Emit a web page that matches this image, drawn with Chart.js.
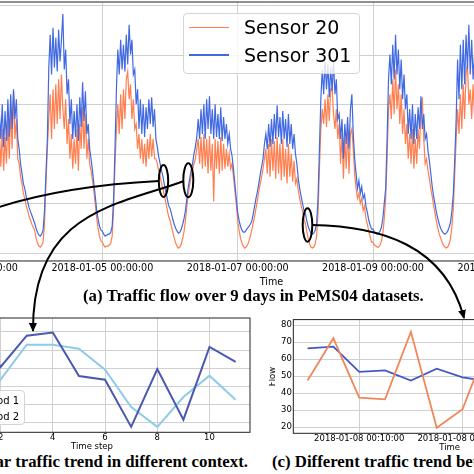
<!DOCTYPE html>
<html>
<head>
<meta charset="utf-8">
<script src="https://cdn.jsdelivr.net/npm/chart.js@4.4.0/dist/chart.umd.min.js"></script>
<style>
  html, body { margin: 0; padding: 0; }
  body { width: 474px; height: 474px; overflow: hidden; background: #fff; position: relative; font-family: 'DejaVu Sans'; }
  .box { position: absolute; }
  .legend { position: absolute; background: rgba(255,255,255,0.8); border: 1px solid #d4d4d4; border-radius: 4px; box-sizing: border-box; }
  .legend span { position: absolute; white-space: nowrap; color: #000; }
  .swatch { height: 1.5px; }
  .caption { position: absolute; font-family: 'Liberation Serif'; font-weight: bold; font-size: 16.8px; line-height: 18px; white-space: nowrap; color: #000; }
</style>
</head>
<body>

<div class="box" style="left:-93px;top:-3px;width:729px;height:291px"><canvas id="flow"></canvas></div>
<div class="box" style="left:-76px;top:313px;width:336px;height:138px"><canvas id="trend"></canvas></div>
<div class="box" style="left:269px;top:313px;width:397px;height:139px"><canvas id="diff"></canvas></div>

<div class="legend" style="left:183px;top:13px;width:177px;height:61px">
  <span class="swatch" style="left:5px;top:12.5px;width:40px;background:#ff7f50"></span>
  <span style="left:60px;top:4px;font-size:19px;line-height:19px">Sensor 20</span>
  <span class="swatch" style="left:5px;top:40.2px;width:40px;background:#4169e1"></span>
  <span style="left:60px;top:32px;font-size:19px;line-height:19px">Sensor 301</span>
</div>

<div class="legend" style="left:-62px;top:390px;width:87px;height:35px">
  <span class="swatch" style="left:6px;top:9px;width:20px;height:2px;background:#4a58ae"></span>
  <span style="left:33px;top:5px;font-size:10px;line-height:10px">Method 1</span>
  <span class="swatch" style="left:6px;top:25px;width:20px;height:2px;background:#8fcbe9"></span>
  <span style="left:33px;top:21px;font-size:10px;line-height:10px">Method 2</span>
</div>

<div class="caption" style="left:83px;top:287px">(a) Traffic flow over 9 days in PeMS04 datasets.</div>
<div class="caption" style="right:226px;top:452.5px">(b) Similar traffic trend in different context.</div>
<div class="caption" style="left:272px;top:452.5px">(c) Different traffic trend between sensors.</div>

<svg width="474" height="474" style="position:absolute;left:0;top:0;overflow:visible">
  <defs>
    <marker id="head" markerWidth="9" markerHeight="8" refX="8" refY="4" orient="auto" markerUnits="userSpaceOnUse">
      <path d="M0,0 L9,4 L0,8 z" fill="#000"/>
    </marker>
  </defs>
  <g fill="none" stroke="#000" stroke-width="2">
    <ellipse cx="163.5" cy="181" rx="4.7" ry="16"/>
    <ellipse cx="188.3" cy="180.3" rx="5" ry="17"/>
    <ellipse cx="307.5" cy="225" rx="4.8" ry="16.7"/>
    <path d="M159 181 Q60 186 -10 210"/>
    <path d="M184 181 C120 205 32 210 33 331" marker-end="url(#head)"/>
    <path d="M312 225 C380 226 445 245 464 318" marker-end="url(#head)"/>
  </g>
</svg>

<script>
// (a) half-hourly flow, hours counted from 2018-01-03 00:00
const flowStartHour = 10;
const flowStepHours = 0.5;
const sensor20 = [
  // 01-03 10:00..23:30
  181,231,171,241,175,251,167,235,181,271,191,291,211,327,231,271,191,181,155,141,121,111,97,87,75,67,59,53,
  // 01-04
  47,31,21,15,13,17,23,61,141,211,271,321,231,331,251,341,261,351,271,361,291,251,311,221,271,191,241,171,231,181,
  251,167,261,211,295,211,281,191,231,181,167,147,125,99,71,51,35,25,
  // 01-05
  23,17,13,15,15,17,21,35,91,181,251,301,241,321,251,331,271,351,367,311,341,271,311,251,261,211,241,191,231,181,
  221,175,231,191,241,195,231,191,191,181,167,155,141,131,117,103,89,75,
  // 01-06
  67,55,43,31,21,15,11,13,19,31,45,67,95,121,139,155,167,181,191,211,231,181,235,171,241,175,231,161,237,167,
  221,105,231,171,227,161,235,167,221,171,211,175,201,171,181,155,127,101,
  // 01-07
  67,47,31,21,15,11,13,17,25,35,47,61,75,91,107,125,141,155,171,191,211,161,221,155,231,167,227,151,235,161,
  221,147,231,155,211,141,221,155,201,145,187,141,151,127,111,97,85,71,
  // 01-08
  61,45,31,19,13,11,13,19,35,81,171,251,291,261,311,255,321,267,331,335,281,251,291,231,261,181,241,151,231,171,
  251,161,241,251,211,161,131,111,121,101,111,87,95,71,59,45,33,23,
  // 01-09
  23,17,15,13,13,17,25,41,71,111,191,291,321,271,351,281,371,291,341,261,321,241,291,221,261,191,241,181,251,171,
  231,181,251,211,291,315,231,181,191,167,151,131,115,97,81,65,51,39,
  // 01-10 00:00..14:00
  31,23,17,13,11,13,19,31,55,91,161,231,291,241,321,251,341,271,361,381,301,331,271,341,281,251,291,231,271
];
const sensor301 = [
  // 01-03 10:00..23:30
  241,291,221,281,231,301,215,287,227,311,235,321,251,331,271,311,231,211,181,161,141,131,115,105,93,85,77,69,
  // 01-04
  61,51,43,37,35,39,47,87,161,231,371,441,361,455,375,435,367,451,387,431,483,371,411,321,351,261,311,231,287,235,
  301,227,315,255,345,267,327,241,261,211,191,167,141,115,87,69,55,47,
  // 01-05
  45,39,35,37,39,39,43,55,111,211,331,411,361,431,371,421,367,441,381,461,401,431,361,371,301,331,251,311,241,301,
  235,295,251,311,261,315,255,291,231,215,195,181,167,155,139,125,111,97,
  // 01-06
  91,81,69,59,51,45,41,43,49,59,71,87,111,135,151,167,181,201,215,235,271,231,291,241,301,231,311,251,317,241,
  291,231,301,235,281,231,295,227,275,231,261,221,241,211,197,171,141,111,
  // 01-07
  83,67,55,47,43,43,47,51,55,59,65,79,95,111,125,141,159,175,191,221,241,211,261,215,271,221,281,231,299,235,
  275,221,287,231,271,215,281,221,261,211,241,201,181,151,131,115,101,87,
  // 01-08
  81,67,55,47,41,39,41,47,61,111,211,311,371,321,387,331,381,315,375,327,387,321,351,271,281,231,271,191,261,221,
  275,211,291,321,241,191,161,131,147,121,135,111,119,95,83,67,57,49,
  // 01-09
  49,43,41,39,41,45,53,71,101,131,231,351,401,341,421,351,441,361,411,331,391,311,361,291,321,241,291,231,301,221,
  281,231,295,251,317,251,281,231,241,207,187,161,135,115,99,83,71,59,
  // 01-10 00:00..14:00
  51,45,41,39,41,45,53,63,87,121,191,271,391,311,421,331,431,341,441,371,461,361,431,351,401,321,351,291,321
];
const flowTickHours = [0, 48, 96, 144, 192];
const flowTickLabels = ['2018-01-03 00:00:00', '2018-01-05 00:00:00', '2018-01-07 00:00:00', '2018-01-09 00:00:00', '2018-01-11 00:00:00'];
const flowYTicks = [0, 100, 200, 300, 400, 500];

// (b)
const trendSteps = [0, 1, 2, 3, 4, 5, 6, 7, 8, 9, 10, 11];
const method1 = [58, 74.8, 50.6, 67.9, 69.7, 45.6, 43.6, 17.5, 49.5, 21.5, 61.7, 53.4];
const method2 = [52, 61, 43.6, 62.9, 62.9, 60.7, 49.1, 28.5, 17.5, 34.0, 45.8, 32.5];
const trendXTicks = [0, 2, 4, 6, 8, 10];
const trendYTicks = [20, 30, 40, 50, 60, 70];

// (c) 5-minute steps from 2018-01-08 00:00
const diffSteps = [0, 1, 2, 3, 4, 5, 6, 7, 8, 9, 10, 11];
const diffSensor20 = [47.4, 72.3, 37.3, 36.3, 76.1, 19.6, 30.5, 70, 55, 80.3, 62, 48];
const diffSensor301 = [66.4, 67.4, 52.5, 53.4, 47.4, 54.4, 49.3, 47, 51, 45, 50, 48];
const diffXTicks = [2, 6, 10];
const diffXLabels = ['2018-01-08 00:10:00', '2018-01-08 00:30:00', '2018-01-08 00:50:00'];
const diffYTicks = [20, 30, 40, 50, 60, 70, 80];

Chart.defaults.font.family = "'DejaVu Sans'";
Chart.defaults.color = '#000';

const gridColor = '#d0d0d0';

// matplotlib style spines round the plot area
const frame = {
  id: 'frame',
  afterDatasetsDraw(chart) {
    const { ctx, chartArea: a } = chart;
    ctx.save();
    ctx.strokeStyle = '#222';
    ctx.lineWidth = 1;
    ctx.strokeRect(a.left, a.top, a.width, a.height);
    ctx.restore();
  }
};

const setTicks = list => axis => { axis.ticks = list.map(v => ({ value: v })); };

const pts = (xs, ys) => ys.map((y, i) => ({ x: xs[i], y: y }));

// (a)
const flowX = sensor20.map((v, i) => flowStartHour + i * flowStepHours);
new Chart(document.getElementById('flow'), {
  type: 'line',
  data: {
    datasets: [
      { label: 'Sensor 20', data: pts(flowX, sensor20), borderColor: '#ff7f50', borderWidth: 1.2, pointRadius: 0, order: 2 },
      { label: 'Sensor 301', data: pts(flowX, sensor301), borderColor: '#4169e1', borderWidth: 1.2, pointRadius: 0, order: 1 }
    ]
  },
  options: {
    animation: false,
    responsive: true,
    maintainAspectRatio: false,
    layout: { padding: { left: 60, right: 60, top: 5, bottom: 0 } },
    plugins: { legend: { display: false }, tooltip: { enabled: false } },
    scales: {
      x: {
        type: 'linear', min: 0, max: 216,
        afterBuildTicks: setTicks(flowTickHours),
        ticks: {
          autoSkip: false, maxRotation: 0, padding: 2, font: { size: 9.6 },
          callback: v => flowTickLabels[flowTickHours.indexOf(v)]
        },
        grid: { color: gridColor, drawTicks: false },
        border: { display: false },
        title: { display: true, text: 'Time', font: { size: 9.6 }, padding: 0 }
      },
      y: {
        min: -15, max: 507,
        afterBuildTicks: setTicks(flowYTicks),
        ticks: { display: false },
        grid: { color: gridColor, drawTicks: false },
        border: { display: false }
      }
    }
  },
  plugins: [frame]
});

// (b)
new Chart(document.getElementById('trend'), {
  type: 'line',
  data: {
    datasets: [
      { label: 'Method 1', data: pts(trendSteps, method1), borderColor: '#4a58ae', borderWidth: 2, pointRadius: 0 },
      { label: 'Method 2', data: pts(trendSteps, method2), borderColor: '#8fcbe9', borderWidth: 2, pointRadius: 0 }
    ]
  },
  options: {
    animation: false,
    responsive: true,
    maintainAspectRatio: false,
    layout: { padding: { left: 10, right: 10, top: 5, bottom: 0 } },
    plugins: { legend: { display: false }, tooltip: { enabled: false } },
    scales: {
      x: {
        type: 'linear', min: -0.55, max: 11.55,
        afterBuildTicks: setTicks(trendXTicks),
        ticks: { autoSkip: false, maxRotation: 0, padding: 0, font: { size: 8.5 } },
        grid: { color: gridColor, drawTicks: false },
        border: { display: false },
        title: { display: true, text: 'Time step', font: { size: 8.5, lineHeight: 1 }, padding: 0 }
      },
      y: {
        min: 14.5, max: 77.7,
        afterBuildTicks: setTicks(trendYTicks),
        ticks: { display: false },
        grid: { color: gridColor, drawTicks: false },
        border: { display: false }
      }
    }
  },
  plugins: [frame]
});

// (c)
new Chart(document.getElementById('diff'), {
  type: 'line',
  data: {
    datasets: [
      { label: 'Sensor 20', data: pts(diffSteps, diffSensor20), borderColor: '#f0875a', borderWidth: 1.8, pointRadius: 0 },
      { label: 'Sensor 301', data: pts(diffSteps, diffSensor301), borderColor: '#4358c4', borderWidth: 1.8, pointRadius: 0 }
    ]
  },
  options: {
    animation: false,
    responsive: true,
    maintainAspectRatio: false,
    layout: { padding: { left: 0, right: 60, top: 5, bottom: 0 } },
    plugins: { legend: { display: false }, tooltip: { enabled: false } },
    scales: {
      x: {
        type: 'linear', min: -0.55, max: 11.55,
        afterBuildTicks: setTicks(diffXTicks),
        ticks: {
          autoSkip: false, maxRotation: 0, padding: 0, font: { size: 8.5 },
          callback: v => diffXLabels[diffXTicks.indexOf(v)]
        },
        grid: { color: gridColor, drawTicks: false },
        border: { display: false },
        title: { display: true, text: 'Time', font: { size: 8.5, lineHeight: 1 }, padding: 0 }
      },
      y: {
        min: 16.33, max: 83.3,
        afterBuildTicks: setTicks(diffYTicks),
        ticks: { padding: 1.5, font: { size: 8.5 } },
        grid: { color: gridColor, drawTicks: false },
        border: { display: false },
        title: { display: true, text: 'Flow', font: { size: 8.5, lineHeight: 1 }, padding: { top: 0, bottom: 2 } }
      }
    }
  },
  plugins: [frame]
});
</script>
</body>
</html>
